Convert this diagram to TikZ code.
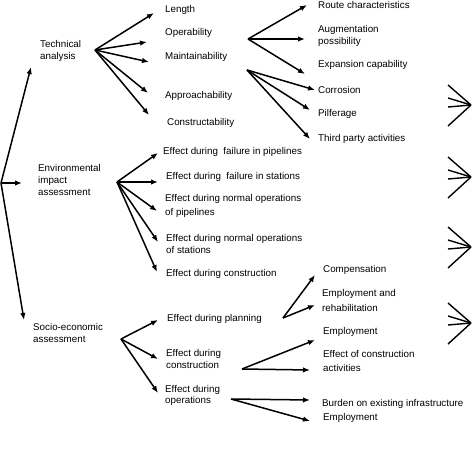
\documentclass[tikz,border=0pt]{standalone}
\usepackage{fontspec}
\setmainfont{Liberation Sans}
\usetikzlibrary{arrows.meta}
\begin{document}
\begin{tikzpicture}[x=1pt,y=-1pt,
  lab/.style={anchor=west, inner sep=0pt, font=\fontsize{9.8}{12}\selectfont, align=left},
  arr/.style={-{Latex[length=7pt,width=5.5pt]}, line width=1.5pt},
  ray/.style={line width=1.4pt}]
\useasboundingbox (0,0) rectangle (474,450);
% root
\coordinate (R) at (1,183);
\coordinate (tT) at (31,67);
\coordinate (tE) at (22,183);
\coordinate (tS) at (24,320);
\node[lab] (tech) at (40,51) {Technical\\analysis};
\node[lab] (env) at (38,180) {Environmental\\ impact\\ assessment};
\node[lab] (socio) at (33,333) {Socio-economic\\ assessment};
\draw[arr] (R) -- (tT);
\draw[arr] (R) -- (tE);
\draw[arr] (R) -- (tS);
% technical
\coordinate (T) at (95,50);
\node[lab] (len) at (165,10) {Length};
\node[lab] (oper) at (165,33) {Operability};
\node[lab] (maint) at (165,57) {Maintainability};
\node[lab] (appr) at (165,96) {Approachability};
\node[lab] (cons) at (167,123) {Constructability};
\coordinate (tlen) at (154,13);
\coordinate (toper) at (147,42);
\coordinate (tmaint) at (149,62);
\coordinate (tappr) at (148,93);
\coordinate (tcons) at (149,115);
\foreach \t in {tlen,toper,tmaint,tappr,tcons} \draw[arr] (T) -- (\t);
% operability
\coordinate (O) at (248,39);
\node[lab] (route) at (318,5) {Route characteristics};
\node[lab] (aug) at (318,36) {Augmentation\\ possibility};
\node[lab] (exp) at (318,65) {Expansion capability};
\coordinate (troute) at (307,5);
\coordinate (taug) at (305,39);
\coordinate (texp) at (305,74);
\foreach \t in {troute,taug,texp} \draw[arr] (O) -- (\t);
% maintainability
\coordinate (M) at (247,70);
\node[lab] (corr) at (318,90) {Corrosion};
\node[lab] (pilf) at (318,114) {Pilferage};
\node[lab] (third) at (318,139) {Third party activities};
\coordinate (tcorr) at (315,90);
\coordinate (tpilf) at (310,110);
\coordinate (tthird) at (310,139);
\foreach \t in {tcorr,tpilf,tthird} \draw[arr] (M) -- (\t);
% environmental
\coordinate (E) at (117,182);
\node[lab] (e1) at (163,152) {Effect during\ \ failure in pipelines};
\node[lab] (e2) at (166,177) {Effect during\ \ failure in stations};
\node[lab] (e3) at (165,206) {Effect during normal operations\\[2pt] of pipelines};
\node[lab] (e4) at (166,243.5) {Effect during normal operations\\ of stations};
\node[lab] (e5) at (166,274) {Effect during construction};
\coordinate (te1) at (158,153);
\coordinate (te2) at (158,182);
\coordinate (te3) at (157,211);
\coordinate (te4) at (158,242);
\coordinate (te5) at (157,272);
\foreach \t in {te1,te2,te3,te4,te5} \draw[arr] (E) -- (\t);
% socio-economic
\coordinate (S) at (121,339);
\node[lab] (s1) at (167,319) {Effect during planning};
\node[lab] (s2) at (166,359) {Effect during\\construction};
\node[lab] (s3) at (165,395.5) {Effect during\\[-1pt]operations};
\coordinate (ts1) at (158,320);
\coordinate (ts2) at (158,359);
\coordinate (ts3) at (158,393);
\foreach \t in {ts1,ts2,ts3} \draw[arr] (S) -- (\t);
% planning
\coordinate (P) at (283,318);
\node[lab] (comp) at (323,270) {Compensation};
\node[lab] (emprh) at (322,300.5) {Employment and\\[3pt]rehabilitation};
\coordinate (tcomp) at (315,275);
\coordinate (temprh) at (315,305);
\foreach \t in {tcomp,temprh} \draw[arr] (P) -- (\t);
% construction
\coordinate (C) at (242,369);
\node[lab] (emp1) at (323,332) {Employment};
\node[lab] (eca) at (323,361) {Effect of construction\\[2pt]activities};
\coordinate (temp1) at (315,340);
\coordinate (teca) at (310,370);
\foreach \t in {temp1,teca} \draw[arr] (C) -- (\t);
% operations
\coordinate (Op) at (231,399);
\node[lab] (burden) at (322,404) {Burden on existing infrastructure};
\node[lab] (emp2) at (323,418) {Employment};
\coordinate (tburden) at (310,400);
\coordinate (temp2) at (310,421);
\foreach \t in {tburden,temp2} \draw[arr] (Op) -- (\t);
% converging glyphs on the right
\foreach \ay in {105,177,247,323} {
  \foreach \dy in {-20,-7,2,21} \draw[ray] (448,\ay+\dy) -- (471,\ay);
}
\end{tikzpicture}
\end{document}
